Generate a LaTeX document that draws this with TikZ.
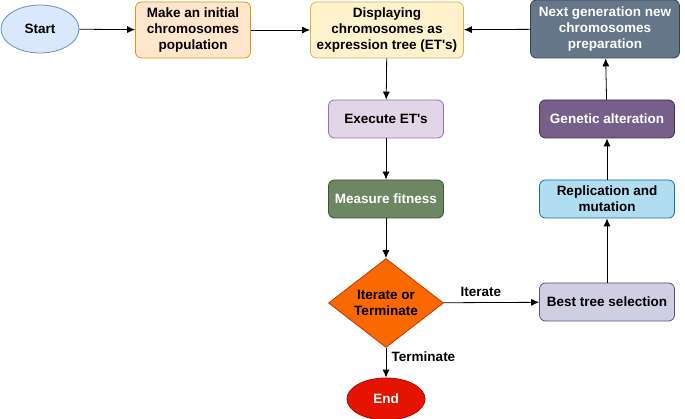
\documentclass[tikz,border=0pt]{standalone}
\usepackage{fontspec}
\setmainfont{Liberation Sans}
\usetikzlibrary{shapes.geometric}
\usetikzlibrary{arrows.meta}
\tikzset{>={Latex[length=8pt,width=7pt]}}

\definecolor{startfill}{HTML}{DAE8FC}\definecolor{startline}{HTML}{6C8EBF}
\definecolor{initfill}{HTML}{FFE6CC}\definecolor{initline}{HTML}{D79B00}
\definecolor{dispfill}{HTML}{FFF2CC}\definecolor{displine}{HTML}{D6B656}
\definecolor{nextfill}{HTML}{647687}\definecolor{nextline}{HTML}{314354}
\definecolor{execfill}{HTML}{E1D5E7}\definecolor{execline}{HTML}{9673A6}
\definecolor{measfill}{HTML}{6D8764}\definecolor{measline}{HTML}{3A5431}
\definecolor{diafill}{HTML}{FA6800}\definecolor{dialine}{HTML}{C73500}
\definecolor{endfill}{HTML}{E51400}\definecolor{endline}{HTML}{B20000}
\definecolor{bestfill}{HTML}{D0CEE2}\definecolor{bestline}{HTML}{56517E}
\definecolor{replfill}{HTML}{B1DDF0}\definecolor{replline}{HTML}{10739E}
\definecolor{genfill}{HTML}{76608A}\definecolor{genline}{HTML}{432D57}

\tikzset{
  stepbox/.style={draw, rounded corners=6pt, line width=0.8pt, align=center,
    minimum width=115pt, minimum height=38pt, inner sep=1pt,
    font=\fontsize{13.5}{16}\selectfont\bfseries},
  oval/.style={draw, ellipse, line width=0.8pt, minimum width=78pt, inner sep=1pt,
    font=\fontsize{13.5}{16}\selectfont\bfseries},
  lbl/.style={font=\fontsize{13.5}{16}\selectfont\bfseries},
  link/.style={->, line width=0.8pt, draw=black}
}

\begin{document}
\begin{tikzpicture}[x=1pt, y=-1pt]
  \useasboundingbox (0,0) rectangle (685,419);

  % top row
  \node (start) at (40,29) [oval, fill=startfill, draw=startline, minimum height=48pt] {Start};
  \node (init) at (193,30) [stepbox, fill=initfill, draw=initline, minimum height=56pt] {Make an initial\\chromosomes\\population};
  \node (disp) at (387,30) [stepbox, fill=dispfill, draw=displine, minimum width=153pt, minimum height=56pt] {Displaying\\chromosomes as\\expression tree (ET\textquotesingle s)};
  \node (next) at (605,29) [stepbox, fill=nextfill, draw=nextline, text=white, minimum width=149pt, minimum height=58pt] {Next generation new\\chromosomes\\preparation};

  % middle column
  \node (exec) at (386,119) [stepbox, fill=execfill, draw=execline] {Execute ET\textquotesingle s};
  \node (meas) at (386,199) [stepbox, fill=measfill, draw=measline, text=white] {Measure fitness};
  \node (dia) at (386,303) [draw, diamond, minimum width=115pt, minimum height=78pt, inner sep=0pt,
    fill=diafill, draw=dialine, line width=0.8pt,
    align=center, font=\fontsize{13.5}{16}\selectfont\bfseries] {Iterate or\\Terminate};
  \node (end) at (386,399) [oval, fill=endfill, draw=endline, text=white, minimum height=42pt] {End};

  % right column
  \node (best) at (607,302) [stepbox, fill=bestfill, draw=bestline, minimum width=135pt] {Best tree selection};
  \node (repl) at (607,199) [stepbox, fill=replfill, draw=replline, minimum width=135pt] {Replication and\\mutation};
  \node (gen) at (607,119) [stepbox, fill=genfill, draw=genline, text=white, minimum width=135pt] {Genetic alteration};

  % connectors
  \draw[link] (start) -- (init);
  \draw[link] (init) -- (disp);
  \draw[link] (next) -- (disp);
  \draw[link] (disp) -- (exec);
  \draw[link] (exec) -- (meas);
  \draw[link] (meas) -- (dia);
  \draw[link] (dia) -- (best) node (iter) [pos=0.39, above, lbl, yshift=2pt] {Iterate};
  \draw[link] (dia) -- (end) node (term) [pos=0.3, right, lbl, xshift=2pt] {Terminate};
  \draw[link] (best) -- (repl);
  \draw[link] (repl) -- (gen);
  \draw[link] (gen) -- (next);
\end{tikzpicture}
\end{document}
